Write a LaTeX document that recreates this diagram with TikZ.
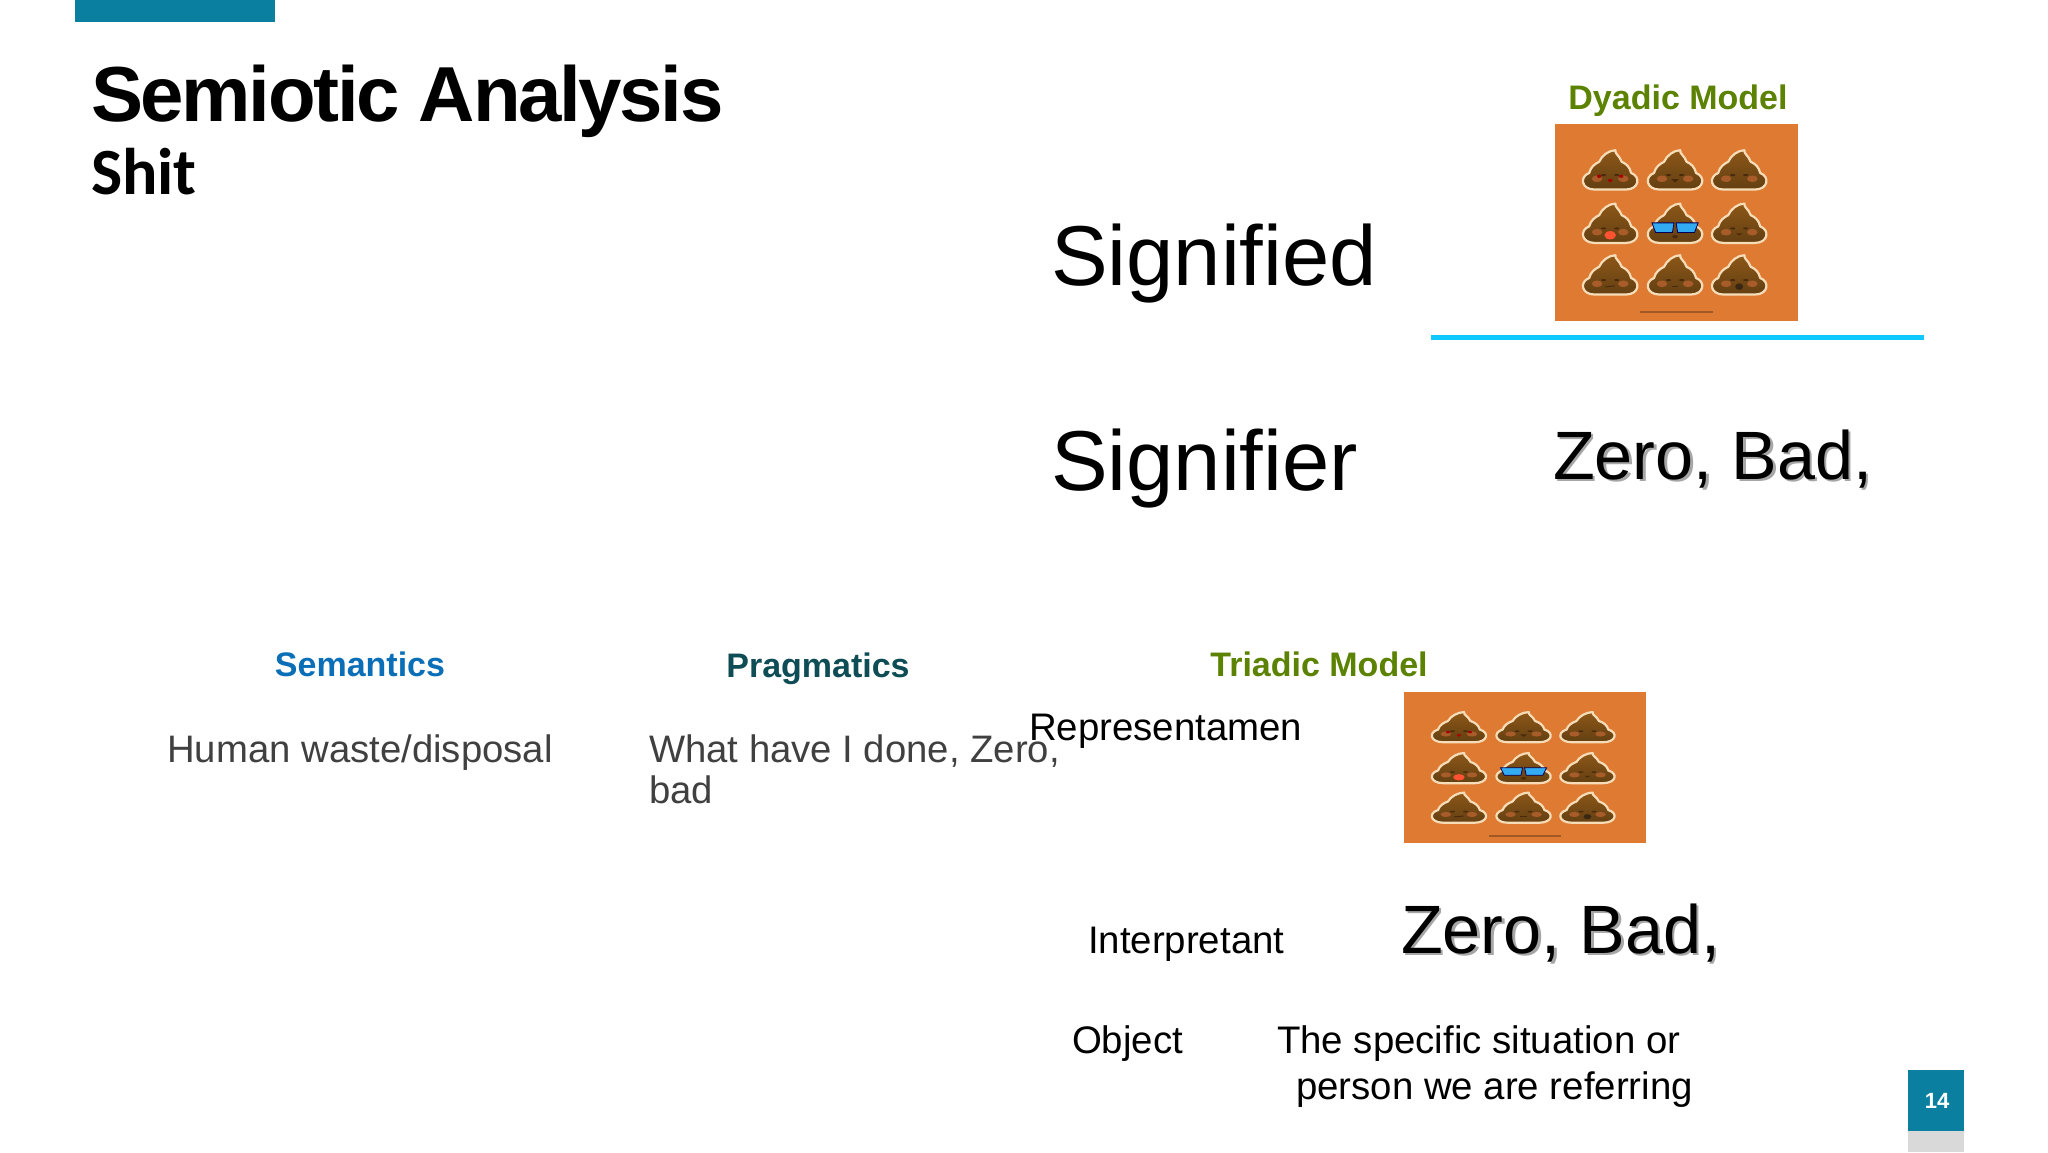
\documentclass[tikz,border=0pt]{standalone}
\usepackage{fontspec}
\setmainfont{Liberation Sans}
\newfontfamily\carlitofont{Carlito}
\newfontfamily\titlefont[LetterSpace=-3]{Liberation Sans}
\definecolor{tealbar}{HTML}{0A7F9F}
\definecolor{modelgreen}{HTML}{5B8200}
\definecolor{semblue}{HTML}{0B6FB8}
\definecolor{pragteal}{HTML}{0E4D55}
\definecolor{bodygrey}{HTML}{404040}
\definecolor{ruleblue}{HTML}{10C8FF}
\definecolor{imgorange}{HTML}{DF7A33}
\definecolor{poopdark}{HTML}{633F12}
\definecolor{pooplight}{HTML}{8C5718}
\definecolor{poopedge}{HTML}{F6DDB8}
\definecolor{cheek}{HTML}{A85C2A}
\definecolor{facedark}{HTML}{4A2A0C}
\definecolor{lensblue}{HTML}{33ABF2}
\tikzset{
  lbl/.style={anchor=base west,inner sep=0pt,outer sep=0pt,align=left},
  mid/.style={anchor=base,inner sep=0pt,outer sep=0pt},
  heading/.style={mid,font=\fontsize{34}{40}\selectfont\bfseries},
  bigword/.style={lbl,font=\fontsize{85}{100}\selectfont,text=black},
  zeroword/.style={lbl,font=\fontsize{68.4}{78}\selectfont,text=black},
  zeroshadow/.style={lbl,font=\fontsize{68.4}{78}\selectfont,text=black!35},
  bodytext/.style={lbl,font=\fontsize{38.3}{46}\selectfont,text=bodygrey},
  modeltext/.style={lbl,font=\fontsize{38.4}{46}\selectfont,text=black},
  poopbody/.style={draw=poopedge,line width=2.2pt,top color=pooplight,bottom color=poopdark,line join=round},
}
\newcommand{\poopface}[1]{%
  \ifnum#1=5\else
    \fill[cheek] (-.5,.4) ellipse (.2 and .16);
    \fill[cheek] (.5,.4) ellipse (.2 and .16);
    \fill[facedark] (-.25,.22) ellipse (.1 and .05);
    \fill[facedark] (.25,.22) ellipse (.1 and .05);
  \fi
  \ifnum#1=1 \fill[red!65!black] (-.42,.28) circle (.08); \fill[red!65!black] (.42,.28) circle (.08); \fill[red!65!black] (0,.48) circle (.08);\fi
  \ifnum#1=2 \fill[facedark] (-.14,.42) -- (.14,.42) -- (0,.58) -- cycle;\fi
  \ifnum#1=4 \fill[red!70!orange!80!white] (0,.55) ellipse (.22 and .2);\fi
  \ifnum#1=5
    \fill[lensblue,draw=black!65!blue,line width=.8pt] (-.88,-.05) -- (-.04,-.05) -- (-.1,.42) -- (-.74,.42) -- cycle;
    \fill[lensblue,draw=black!65!blue,line width=.8pt] (.88,-.05) -- (.04,-.05) -- (.1,.42) -- (.74,.42) -- cycle;
    \fill[facedark] (0,.62) ellipse (.11 and .08);
  \fi
  \ifnum#1=6 \fill[facedark] (-.12,.46) -- (.12,.46) -- (0,.56) -- cycle;\fi
  \ifnum#1=7 \draw[facedark,line width=1pt] (-.18,.55) -- (.18,.5);\fi
  \ifnum#1=8 \fill[facedark] (-.12,.5) rectangle (.12,.56);\fi
  \ifnum#1=9 \fill[black!70!brown] (0,.54) ellipse (.15 and .16);\fi
}
\newcommand{\poopimage}[4]{% left, top, width, height
  \fill[imgorange] (#1,#2) rectangle ++(#3,#4);
  \foreach \n/\fx/\fy in {1/.227/.236,2/.494/.236,3/.758/.236,4/.227/.507,5/.494/.507,6/.758/.507,7/.227/.769,8/.494/.769,9/.758/.769}{
    \begin{scope}[shift={({#1+\fx*#3},{#2+\fy*#4})},x={(#3*.108pt,0pt)},y={(0pt,-#4*.105pt)}]
      \path[poopbody] (-.6,.92) .. controls (-1.1,.92) and (-1.18,.3) .. (-.8,.12) .. controls (-.74,-.18) and (-.58,-.32) .. (-.42,-.42) .. controls (-.32,-.72) and (-.05,-.98) .. (.2,-.98) .. controls (.16,-.82) and (.36,-.72) .. (.44,-.42) .. controls (.62,-.32) and (.74,-.18) .. (.8,.12) .. controls (1.18,.3) and (1.1,.92) .. (.6,.92) -- cycle;
      \poopface{\n}
    \end{scope}
  }
  \fill[imgorange!72!black] ({#1+.35*#3},{#2+.947*#4}) rectangle ({#1+.65*#3},{#2+.96*#4});
}
\begin{document}
\begin{tikzpicture}[x=1pt,y=-1pt]
\useasboundingbox (0,0) rectangle (2048,1152);
\fill[white] (0,0) rectangle (2048,1152);
% top bar
\fill[tealbar] (75,0) rectangle (275,22);
% titles
\node[lbl,font=\titlefont\fontsize{78}{90}\selectfont\bfseries] (title) at (91,121) {Semiotic Analysis};
\node[lbl,font=\carlitofont\fontsize{66}{70}\selectfont\bfseries] (sub) at (91,194) {Shit};
% dyadic
\node[heading,text=modelgreen] (dyadic) at (1678,109) {Dyadic Model};
\poopimage{1555}{124}{243}{197}
\coordinate (ruleL) at (1431,337.5);
\coordinate (ruleR) at (1924,337.5);
\draw[ruleblue,line width=4.5pt] (ruleL) -- (ruleR);
\node[bigword] (signified) at (1051,285) {Signified};
\node[bigword] (signifier) at (1051,490) {Signifier};
\node[zeroshadow] (zero1s) at (1555.5,481.5) {Zero, Bad,};
\node[zeroword] (zero1) at (1553,479.5) {Zero, Bad,};
% lower columns
\node[heading,text=semblue] (semantics) at (360,676) {Semantics};
\node[heading,text=pragteal] (pragmatics) at (818,677) {Pragmatics};
\node[heading,text=modelgreen] (triadic) at (1319,676) {Triadic Model};
\node[bodytext,anchor=base] (human) at (360,762) {Human waste/disposal};
\node[bodytext] (what) at (649,762) {What have I done, Zero,};
\node[bodytext] (bad) at (649,803) {bad};
\node[modeltext] (repr) at (1029,740) {Representamen};
\poopimage{1404}{692}{242}{151}
\node[zeroshadow] (zero2s) at (1403.5,955.5) {Zero, Bad,};
\node[zeroword] (zero2) at (1401,953.5) {Zero, Bad,};
\node[modeltext] (interp) at (1088,953) {Interpretant};
\node[modeltext] (object) at (1072,1053) {Object};
\node[modeltext] (spec1) at (1277,1053) {The specific situation or};
\node[modeltext] (spec2) at (1296,1099) {person we are referring};
% page number
\fill[black!15] (1908,1131) rectangle (1964,1152);
\fill[tealbar] (1908,1070) rectangle (1964,1131);
\node[mid,text=white,font=\fontsize{22}{26}\selectfont\bfseries] (page) at (1937,1108) {14};
\end{tikzpicture}
\end{document}
